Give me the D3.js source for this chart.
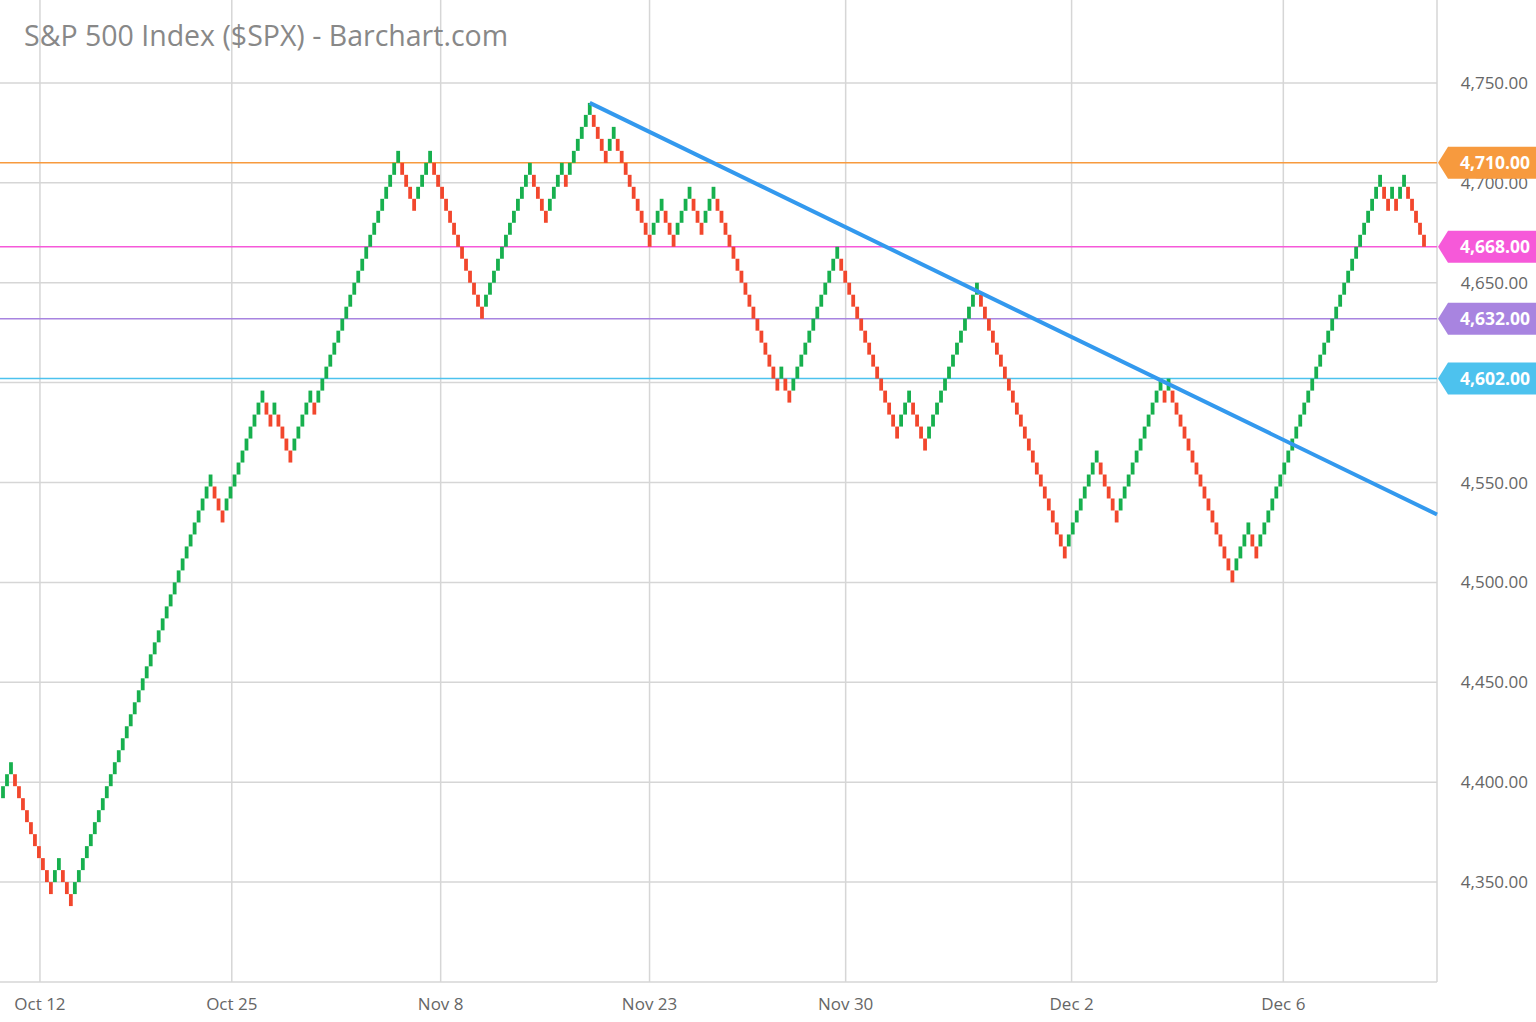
<!DOCTYPE html>
<meta charset="utf-8">
<title>S&P 500 Renko</title>
<script src="https://cdn.jsdelivr.net/npm/d3@7"></script>
<style>
  body { margin:0; padding:0; background:#fff; }
  text { font-family: 'Open Sans', sans-serif; }
</style>
<body>
<svg id="chart" width="1536" height="1022"></svg>
<script>
var brick = 6;
// turning points of the renko chart (multiples of brick size)
var pivots = [4392, 4410, 4344, 4362, 4338, 4554, 4530, 4596, 4578, 4590, 4560, 4596, 4584, 4716, 4686, 4716,
  4632, 4710, 4680, 4710, 4698, 4740, 4710, 4728, 4668, 4692, 4668, 4698, 4674, 4698, 4596, 4608, 4590, 4668,
  4572, 4596, 4566, 4650, 4512, 4566, 4530, 4602, 4590, 4602, 4500, 4530, 4512, 4704, 4686, 4698, 4686, 4704, 4668];
var priceTicks = [4350, 4400, 4450, 4500, 4550, 4600, 4650, 4700, 4750];
var dateLabels = ['Oct 12', 'Oct 25', 'Nov 8', 'Nov 23', 'Nov 30', 'Dec 2', 'Dec 6'];
var datePos = [0.026, 0.161, 0.308, 0.455, 0.593, 0.752, 0.901]; // share of brick range
var levels = [
  {price: 4710, color: '#f79a3e'},
  {price: 4668, color: '#f659d9'},
  {price: 4632, color: '#a884e0'},
  {price: 4602, color: '#4dc2ee'}
];
var trendEnd = 4534;

// build bricks
var bricks = [];
for (var i = 1; i < pivots.length; i++) {
  var a = pivots[i-1], b = pivots[i];
  if (b > a) {
    var lo = (i == 1) ? a : a + brick;
    for (var p = lo; p < b; p += brick) bricks.push({lo: p, hi: p + brick, up: true});
  } else {
    var hi = (i == 1) ? a : a - brick;
    for (var p = hi; p > b; p -= brick) bricks.push({lo: p - brick, hi: p, up: false});
  }
}
var peakIdx = 0;
bricks.forEach(function(d, i) { if (d.hi > bricks[peakIdx].hi) peakIdx = i; });

var svg = d3.select("#chart");
var W = 1437, B = 982;
var x = d3.scaleLinear().domain([0, bricks.length - 1]).range([3, 1424]);
var y = d3.scaleLinear().domain([4300, 4791.5]).range([B, 0]);
var bw = Math.max(2, (x(1) - x(0)) * 0.95);

// grid
svg.selectAll(".hg").data(priceTicks).enter().append("line")
  .attr("x1", 0).attr("x2", W).attr("y1", function(d) { return y(d); }).attr("y2", function(d) { return y(d); })
  .attr("stroke", "#d6d6d6").attr("stroke-width", 1.5);
svg.selectAll(".vg").data(datePos).enter().append("line")
  .attr("x1", function(d) { return x(d * (bricks.length - 1)); }).attr("x2", function(d) { return x(d * (bricks.length - 1)); })
  .attr("y1", 0).attr("y2", B).attr("stroke", "#d6d6d6").attr("stroke-width", 1.5);
svg.append("line").attr("x1", W).attr("x2", W).attr("y1", 0).attr("y2", B).attr("stroke", "#d6d6d6").attr("stroke-width", 1.5);
svg.append("line").attr("x1", 0).attr("x2", W).attr("y1", B).attr("y2", B).attr("stroke", "#d6d6d6").attr("stroke-width", 1.5);

// price axis labels (the 4,600 one sits under its tag)
svg.selectAll(".pl").data(priceTicks.filter(function(d) { return d != 4600; })).enter().append("text")
  .attr("x", 1528).attr("y", function(d) { return y(d) + 6; }).attr("text-anchor", "end")
  .attr("font-size", 17).attr("fill", "#666").text(function(d) { return d3.format(",.2f")(d); });
svg.selectAll(".dl").data(dateLabels).enter().append("text")
  .attr("x", function(d, i) { return x(datePos[i] * (bricks.length - 1)); }).attr("y", 1010)
  .attr("text-anchor", "middle").attr("font-size", 17).attr("fill", "#666").text(function(d) { return d; });

// level lines
svg.selectAll(".lv").data(levels).enter().append("line")
  .attr("x1", 0).attr("x2", W).attr("y1", function(d) { return y(d.price); }).attr("y2", function(d) { return y(d.price); })
  .attr("stroke", function(d) { return d.color; }).attr("stroke-width", 1.5);

// bricks
svg.selectAll(".br").data(bricks).enter().append("rect")
  .attr("x", function(d, i) { return x(i) - bw / 2; })
  .attr("y", function(d) { return y(d.hi); })
  .attr("width", bw)
  .attr("height", function(d) { return y(d.lo) - y(d.hi); })
  .attr("fill", function(d) { return d.up ? "#17b04e" : "#f2472d"; });

// trend line
svg.append("line")
  .attr("x1", x(peakIdx)).attr("y1", y(bricks[peakIdx].hi))
  .attr("x2", W).attr("y2", y(trendEnd))
  .attr("stroke", "#3399ee").attr("stroke-width", 4);

// level tags
var tags = svg.selectAll(".tag").data(levels).enter().append("g")
  .attr("transform", function(d) { return "translate(1438," + y(d.price) + ")"; });
tags.append("path").attr("d", "M0,0 L10,-16 L98,-16 L98,16 L10,16 Z").attr("fill", function(d) { return d.color; });
tags.append("text").attr("x", 92).attr("y", 6).attr("text-anchor", "end").attr("font-size", 17.5)
  .attr("font-weight", 700).attr("fill", "#fff").text(function(d) { return d3.format(",.2f")(d.price); });

// title
svg.append("text").attr("x", 24).attr("y", 46).attr("font-size", 28.5).attr("fill", "#888")
  .text("S&P 500 Index ($SPX) - Barchart.com");
</script>
</body>
</html>
